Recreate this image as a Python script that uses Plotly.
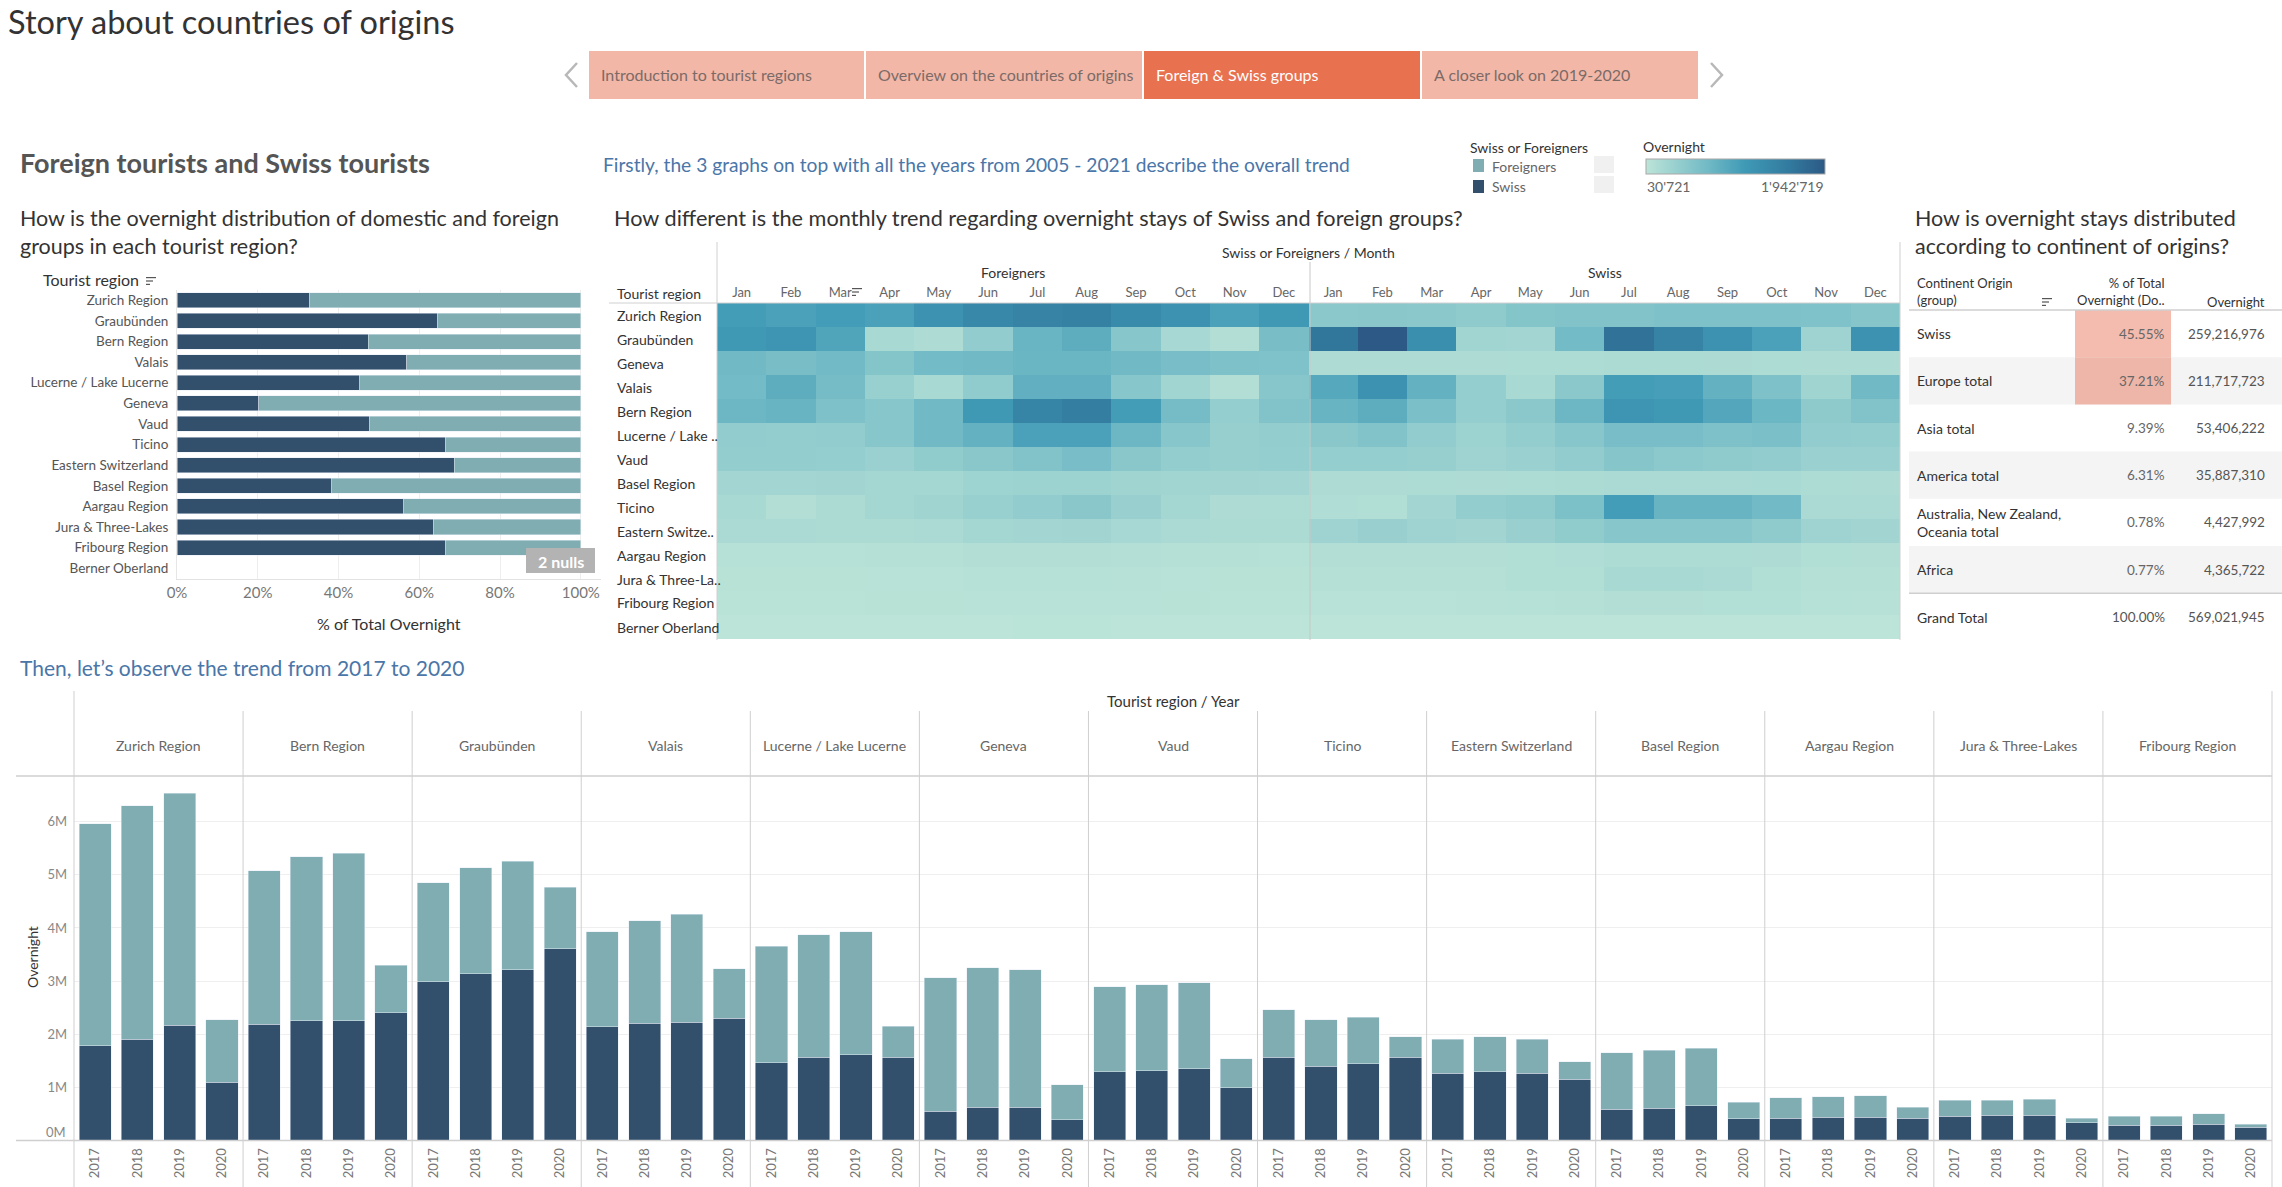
import plotly.graph_objects as go

W, H = 2282, 1187

# ---------------- data ----------------
# Left bar chart: share of overnight stays (Swiss vs Foreigners) per tourist region
bar_regions = ["Zurich Region", "Graubünden", "Bern Region", "Valais", "Lucerne / Lake Lucerne",
               "Geneva", "Vaud", "Ticino", "Eastern Switzerland", "Basel Region", "Aargau Region",
               "Jura & Three-Lakes", "Fribourg Region", "Berner Oberland"]
bar_swiss_share = [0.327, 0.644, 0.473, 0.569, 0.453, 0.203, 0.476, 0.664, 0.686, 0.383, 0.562, 0.634, 0.664, None]
bar_foreign_share = [0.673, 0.356, 0.527, 0.431, 0.547, 0.797, 0.524, 0.336, 0.314, 0.617, 0.438, 0.366, 0.336, None]
bar_ticks = [0, 0.2, 0.4, 0.6, 0.8, 1.0]
bar_ticktext = ["0%", "20%", "40%", "60%", "80%", "100%"]

# Heatmap: monthly overnight stays (thousands)
months = ["Jan", "Feb", "Mar", "Apr", "May", "Jun", "Jul", "Aug", "Sep", "Oct", "Nov", "Dec"]
groups = ["Foreigners", "Swiss"]
heat_labels = ["Zurich Region", "Graubünden", "Geneva", "Valais", "Bern Region", "Lucerne / Lake ..",
               "Vaud", "Basel Region", "Ticino", "Eastern Switze..", "Aargau Region", "Jura & Three-La..",
               "Fribourg Region", "Berner Oberland"]
heat_foreigners_k = [
    [1050, 1000, 1040, 1000, 1200, 1350, 1420, 1450, 1300, 1200, 1000, 1100],
    [1100, 1150, 950, 200, 150, 400, 750, 850, 500, 220, 120, 620],
    [700, 620, 680, 520, 670, 700, 740, 740, 700, 630, 570, 560],
    [670, 850, 650, 350, 200, 420, 820, 820, 500, 270, 120, 500],
    [720, 760, 580, 500, 700, 1100, 1400, 1500, 1050, 660, 380, 540],
    [400, 390, 400, 500, 700, 800, 1000, 1000, 720, 500, 360, 390],
    [390, 390, 380, 330, 410, 480, 550, 630, 480, 390, 360, 370],
    [250, 250, 260, 230, 240, 300, 310, 310, 280, 270, 260, 250],
    [200, 120, 170, 230, 280, 350, 400, 480, 340, 240, 150, 160],
    [180, 180, 170, 170, 190, 230, 250, 260, 210, 190, 170, 170],
    [80, 80, 85, 90, 100, 120, 120, 120, 110, 100, 90, 80],
    [60, 60, 60, 65, 70, 80, 85, 85, 75, 70, 60, 60],
    [50, 50, 50, 55, 60, 65, 70, 70, 65, 60, 50, 50],
    [31, 31, 31, 32, 33, 35, 36, 36, 34, 32, 31, 31],
]
heat_swiss_k = [
    [470, 480, 470, 430, 520, 540, 540, 580, 580, 580, 560, 510],
    [1600, 1940, 1250, 270, 250, 670, 1650, 1420, 1200, 1000, 290, 1200],
    [150, 150, 150, 150, 160, 160, 170, 170, 165, 160, 150, 150],
    [900, 1200, 800, 370, 200, 470, 1050, 1030, 800, 570, 280, 700],
    [760, 850, 600, 380, 470, 720, 1150, 1100, 930, 730, 440, 550],
    [480, 540, 400, 310, 390, 500, 630, 630, 580, 600, 400, 390],
    [370, 380, 360, 290, 330, 400, 510, 450, 430, 400, 330, 330],
    [150, 150, 160, 150, 160, 170, 190, 190, 190, 185, 160, 150],
    [140, 130, 250, 390, 430, 590, 1040, 760, 760, 680, 190, 180],
    [290, 340, 290, 260, 340, 410, 500, 500, 500, 430, 290, 260],
    [120, 120, 120, 120, 130, 140, 160, 160, 160, 155, 130, 120],
    [90, 90, 90, 90, 130, 130, 200, 200, 190, 130, 100, 90],
    [70, 70, 70, 75, 80, 90, 120, 120, 115, 115, 80, 75],
    [31, 31, 31, 31, 32, 32, 33, 33, 33, 32, 31, 31],
]
heat_min, heat_max = 30721, 1942719

# Table: overnight stays by continent of origin
continents = ["Swiss", "Europe total", "Asia total", "America total",
              "Australia, New Zealand,<br>Oceania total", "Africa"]
continent_pct = [45.55, 37.21, 9.39, 6.31, 0.78, 0.77]
continent_overnight = [259216976, 211717723, 53406222, 35887310, 4427992, 4365722]
grand_total_pct = 100.00
grand_total_overnight = 569021945

# Bottom chart: yearly overnight stays 2017-2020 (millions)
bottom_regions = ["Zurich Region", "Bern Region", "Graubünden", "Valais", "Lucerne / Lake Lucerne",
                  "Geneva", "Vaud", "Ticino", "Eastern Switzerland", "Basel Region", "Aargau Region",
                  "Jura & Three-Lakes", "Fribourg Region"]
years = ["2017", "2018", "2019", "2020"]
bottom_swiss_m = [
    [1.78, 1.91, 2.17, 1.10], [2.19, 2.25, 2.25, 2.40], [2.99, 3.14, 3.21, 3.61], [2.14, 2.21, 2.23, 2.30],
    [1.46, 1.57, 1.61, 1.57], [0.55, 0.63, 0.63, 0.39], [1.29, 1.31, 1.35, 0.99], [1.57, 1.40, 1.44, 1.57],
    [1.27, 1.29, 1.27, 1.15], [0.59, 0.61, 0.65, 0.41], [0.42, 0.44, 0.44, 0.42], [0.46, 0.48, 0.48, 0.33],
    [0.29, 0.29, 0.31, 0.25],
]
bottom_foreign_m = [
    [4.18, 4.39, 4.37, 1.17], [2.89, 3.09, 3.16, 0.90], [1.86, 1.99, 2.05, 1.16], [1.79, 1.93, 2.03, 0.93],
    [2.20, 2.30, 2.32, 0.58], [2.51, 2.62, 2.58, 0.66], [1.60, 1.62, 1.62, 0.55], [0.89, 0.87, 0.88, 0.38],
    [0.64, 0.66, 0.64, 0.33], [1.06, 1.09, 1.09, 0.31], [0.38, 0.38, 0.40, 0.21], [0.30, 0.28, 0.30, 0.09],
    [0.17, 0.17, 0.19, 0.06],
]
bottom_yticks = [0, 1, 2, 3, 4, 5, 6]

nav_labels = ["Introduction to tourist regions", "Overview on the countries of origins",
              "Foreign & Swiss groups", "A closer look on 2019-2020"]
nav_active = 2

# ---------------- styling ----------------
SWISS = "#324f6c"
FOREIGN = "#7fadb2"
FONT = "Lato, 'Open Sans', sans-serif"
TXT = "#333333"
GREY = "#666666"
BLUE_TXT = "#4a76a8"


def X(p):
    return p / W


def Y(p):
    return 1 - p / H


shapes = []
annotations = []


def line(x0, y0, x1, y1, color="#d4d4d4", width=1):
    shapes.append(dict(type="line", xref="paper", yref="paper", x0=X(x0), y0=Y(y0), x1=X(x1), y1=Y(y1),
                       line=dict(color=color, width=width)))


def rect(x0, y0, x1, y1, fill, lc=None, lw=0, layer="above"):
    shapes.append(dict(type="rect", xref="paper", yref="paper", x0=X(x0), y0=Y(y0), x1=X(x1), y1=Y(y1),
                       fillcolor=fill, line=dict(color=lc or fill, width=lw), layer=layer))


def text(t, x, y, size=13, color=TXT, xanchor="left", yanchor="middle", bold=False, angle=0, align="left"):
    if bold:
        t = "<b>" + t + "</b>"
    annotations.append(dict(text=t, x=X(x), y=Y(y), xref="paper", yref="paper", showarrow=False,
                            xanchor=xanchor, yanchor=yanchor, textangle=angle, align=align,
                            font=dict(size=size, color=color, family=FONT)))


def sort_icon(x, y):
    rect(x, y - 4, x + 10, y - 2.8, "#555555")
    rect(x, y - 0.6, x + 7, y + 0.6, "#555555")
    rect(x, y + 2.8, x + 4, y + 4, "#555555")


fig = go.Figure()

# ---------------- left bar chart ----------------
fig.add_trace(go.Bar(y=bar_regions, x=bar_swiss_share, orientation="h", marker_color=SWISS, width=0.73,
                     xaxis="x", yaxis="y", name="Swiss", showlegend=False))
fig.add_trace(go.Bar(y=bar_regions, x=bar_foreign_share, orientation="h", marker_color=FOREIGN, width=0.73,
                     xaxis="x", yaxis="y", name="Foreigners", showlegend=False))

# ---------------- heatmap ----------------
heat_z = []
for i in range(len(heat_labels)):
    heat_z.append([v * 1000 for v in heat_foreigners_k[i]] + [v * 1000 for v in heat_swiss_k[i]])
heat_x = list(range(2 * len(months)))
heat_y = list(range(len(heat_labels)))
fig.add_trace(go.Heatmap(
    z=heat_z, x=heat_x, y=heat_y, xaxis="x2", yaxis="y2", zmin=heat_min, zmax=heat_max,
    colorscale=[[0, "#bce4d8"], [0.35, "#70b9c5"], [0.55, "#3f9ab6"], [0.8, "#327a9f"], [1, "#2c5985"]],
    showscale=True,
    colorbar=dict(orientation="h", x=X(1646), xanchor="left", y=Y(166.5), yanchor="middle",
                  len=179, lenmode="pixels", thickness=15, thicknessmode="pixels",
                  outlinewidth=1, outlinecolor="#a8a8a8", showticklabels=False, ticks="", xpad=0, ypad=0),
    hoverinfo="z"))

# ---------------- bottom chart ----------------
bx, b_sw, b_fr, b_ticktext = [], [], [], []
for i in range(len(bottom_regions)):
    for j in range(len(years)):
        bx.append(i * len(years) + j)
        b_sw.append(bottom_swiss_m[i][j] * 1e6)
        b_fr.append(bottom_foreign_m[i][j] * 1e6)
        b_ticktext.append(years[j])
fig.add_trace(go.Bar(x=bx, y=b_sw, marker_color=SWISS, width=0.76, xaxis="x3", yaxis="y3",
                     name="Swiss", showlegend=False))
fig.add_trace(go.Bar(x=bx, y=b_fr, marker_color=FOREIGN, width=0.76, xaxis="x3", yaxis="y3",
                     name="Foreigners", showlegend=False))

# ---------------- header / nav ----------------
text("Story about countries of origins", 6, 21, size=32.5, color=TXT)
nav_x = [(589, 864), (866, 1142), (1144, 1420), (1422, 1698)]
for k, (a, b) in enumerate(nav_x):
    active = k == nav_active
    rect(a, 51, b, 99, "#e8714f" if active else "#f3b7a7")
    text(nav_labels[k], a + 10, 74, size=16, color="#ffffff" if active else "#7b6b67")
shapes.append(dict(type="path", xref="paper", yref="paper",
                   path=f"M {X(577)} {Y(63)} L {X(566)} {Y(75)} L {X(577)} {Y(87)}",
                   line=dict(color="#b8b8b8", width=2.5)))
shapes.append(dict(type="path", xref="paper", yref="paper",
                   path=f"M {X(1711)} {Y(63)} L {X(1722)} {Y(75)} L {X(1711)} {Y(87)}",
                   line=dict(color="#b8b8b8", width=2.5)))

text("Foreign tourists and Swiss tourists", 18, 162, size=27, color="#555555", bold=True)
text("Firstly, the 3 graphs on top with all the years from 2005 - 2021 describe the overall trend",
     601, 164, size=19.2, color=BLUE_TXT)

# legends
text("Swiss or Foreigners", 1468, 147, size=14, color=TXT)
rect(1473, 159, 1484, 172, FOREIGN)
rect(1473, 180, 1484, 193, SWISS)
text("Foreigners", 1490, 166, size=14, color=GREY)
text("Swiss", 1490, 187, size=14, color=GREY)
rect(1594, 156, 1614, 173, "#f0f0f0")
rect(1594, 176, 1614, 193, "#f0f0f0")
text("Overnight", 1641, 146, size=14, color=TXT)
text("30'721", 1645, 187, size=14, color=GREY)
text("1'942'719", 1826, 187, size=14, color=GREY, xanchor="right")

# ---------------- left chart texts ----------------
text("How is the overnight distribution of domestic and foreign<br>groups in each tourist region?",
     18, 232, size=21.5, color=TXT)
text("Tourist region", 41, 280, size=16, color=TXT)
sort_icon(146, 281)
text("% of Total Overnight", 389, 623, size=16, color=TXT, xanchor="center")
shapes.append(dict(type="rect", xref="paper", yref="paper", x0=X(526), y0=Y(548), x1=X(595), y1=Y(573),
                   fillcolor="#b3b3b3", line=dict(color="#b3b3b3", width=0)))
text("2 nulls", 560.5, 561, size=16, color="#ffffff", xanchor="center", bold=True)

# ---------------- heatmap texts / lines ----------------
text("How different is the monthly trend regarding overnight stays of Swiss and foreign groups?",
     612, 218, size=21.7, color=TXT)
text("Swiss or Foreigners / Month", 1308, 253, size=14, color=TXT, xanchor="center")
text("Foreigners", 1013, 273, size=14, color=TXT, xanchor="center")
text("Swiss", 1605, 273, size=14, color=TXT, xanchor="center")
text("Tourist region", 615, 294, size=14, color=TXT)
sort_icon(852, 292)
for i, lab in enumerate(heat_labels):
    text(lab, 615, 303 + 24 * (i + 0.5), size=14, color=TXT)
line(717, 242, 717, 640, "#d0d0d0")
line(1310, 262, 1310, 640, "#c8c8c8")
line(609, 303, 1900, 303, "#d0d0d0")

# ---------------- table ----------------
text("How is overnight stays distributed<br>according to continent of origins?", 1913, 232, size=21.5, color=TXT)
line(1900, 242, 1900, 640, "#d0d0d0")
row_top = 310
row_h = 47.2
for i in range(len(continents)):
    y0 = row_top + i * row_h
    if i % 2 == 1:
        rect(1909, y0, 2282, y0 + row_h, "#f4f4f4", layer="below")
for i in range(2):
    y0 = row_top + i * row_h
    rect(2075, y0, 2171, y0 + row_h, "#f4bcae" if i == 0 else "#eeb6a9", layer="below")
text("Continent Origin<br>(group)", 1915, 292, size=13, color=TXT)
sort_icon(2042, 302)
text("% of Total<br>Overnight (Do..", 2167, 292, size=13, color=TXT, xanchor="right", align="right")
text("Overnight", 2267, 302, size=13, color=TXT, xanchor="right")
line(1909, 310, 2282, 310, "#cfcfcf", 1.5)
for i, name in enumerate(continents):
    yc = row_top + (i + 0.5) * row_h
    text(name, 1915, yc, size=14, color=TXT)
    text(f"{continent_pct[i]:.2f}%", 2167, yc, size=13.5, color="#666666", xanchor="right")
    text(f"{continent_overnight[i]:,}", 2267, yc, size=13.5, color="#555555", xanchor="right")
y_gt = row_top + len(continents) * row_h
line(1909, y_gt, 2282, y_gt, "#cfcfcf", 1.5)
text("Grand Total", 1915, y_gt + 24, size=14, color=TXT)
text(f"{grand_total_pct:.2f}%", 2167, y_gt + 24, size=13.5, color="#555555", xanchor="right")
text(f"{grand_total_overnight:,}", 2267, y_gt + 24, size=13.5, color="#555555", xanchor="right")

# ---------------- bottom chart texts / lines ----------------
B_TOP, B_BASE = 776, 1140.5
text("Then, let\u2019s observe the trend from 2017 to 2020", 18, 667, size=21, color=BLUE_TXT)
text("Tourist region / Year", 1173, 701, size=15, color=TXT, xanchor="center")
pw = (2272 - 74) / len(bottom_regions)
for i, reg in enumerate(bottom_regions):
    text(reg, 74 + pw * (i + 0.5), 745, size=14, color=GREY, xanchor="center")
line(74, 691, 74, 1187, "#cfcfcf")
for i in range(1, len(bottom_regions)):
    line(74 + pw * i, 711, 74 + pw * i, 1187, "#cfcfcf")
line(2272, 691, 2272, 1187, "#cfcfcf")
line(16, B_TOP, 2272, B_TOP, "#cfcfcf", 1.5)
line(16, B_BASE, 2272, B_BASE, "#cfcfcf", 1.5)
text("Overnight", 32, 957, size=14, color=TXT, xanchor="center", angle=-90)
# Tableau keeps the lowest tick label inside the pane, just above the baseline
b_yticktext = [f"{v}M" if v > 0 else "" for v in bottom_yticks]
text(f"{bottom_yticks[0]}M", 68, B_BASE - 9, size=13, color="#888888", xanchor="right")

# ---------------- layout ----------------
fig.update_layout(
    width=W, height=H, margin=dict(l=0, r=0, t=0, b=0, pad=0, autoexpand=False),
    paper_bgcolor="white", plot_bgcolor="white",
    font=dict(family=FONT, color=TXT),
    barmode="stack", showlegend=False,
    xaxis=dict(domain=[X(177), X(601)], range=[0, 1.05], tickvals=bar_ticks, ticktext=bar_ticktext,
               showgrid=True, gridcolor="#eeeeee", zeroline=False, showline=True, linecolor="#e2e2e2",
               tickfont=dict(size=15, color="#777777"), anchor="y", fixedrange=True, automargin=False),
    yaxis=dict(domain=[Y(578.5), Y(290)], categoryorder="array", categoryarray=bar_regions,
               autorange="reversed", showgrid=False, zeroline=False, showline=True, linecolor="#e6e6e6",
               tickfont=dict(size=13.5, color="#555555"), ticks="", ticklabelstandoff=5,
               anchor="x", fixedrange=True, automargin=False),
    xaxis2=dict(domain=[X(717), X(1900)], range=[-0.5, 23.5], side="top", tickvals=heat_x,
                ticktext=months + months, tickfont=dict(size=13, color="#666666"), ticks="",
                showgrid=False, zeroline=False, showline=False, anchor="y2", ticklabelstandoff=2,
                automargin=False),
    yaxis2=dict(domain=[Y(639), Y(303)], range=[13.5, -0.5], showticklabels=False, showgrid=False,
                zeroline=False, showline=False, anchor="x2", automargin=False),
    xaxis3=dict(domain=[X(74), X(2272)], range=[-0.5, 51.5], tickvals=bx, ticktext=b_ticktext,
                tickangle=-90, tickfont=dict(size=13, color="#777777"), ticks="", showgrid=False,
                zeroline=False, showline=False, anchor="y3", automargin=False, ticklabelstandoff=4),
    yaxis3=dict(domain=[Y(B_BASE), Y(B_TOP)], range=[0, 6.86e6], tickvals=[v * 1e6 for v in bottom_yticks],
                ticktext=b_yticktext, tickfont=dict(size=13, color="#888888"),
                gridcolor="#efefef", zeroline=False, showline=False, ticks="", anchor="x3",
                ticklabelstandoff=6, automargin=False),
    shapes=shapes, annotations=annotations,
)

fig.write_html("out.html")
